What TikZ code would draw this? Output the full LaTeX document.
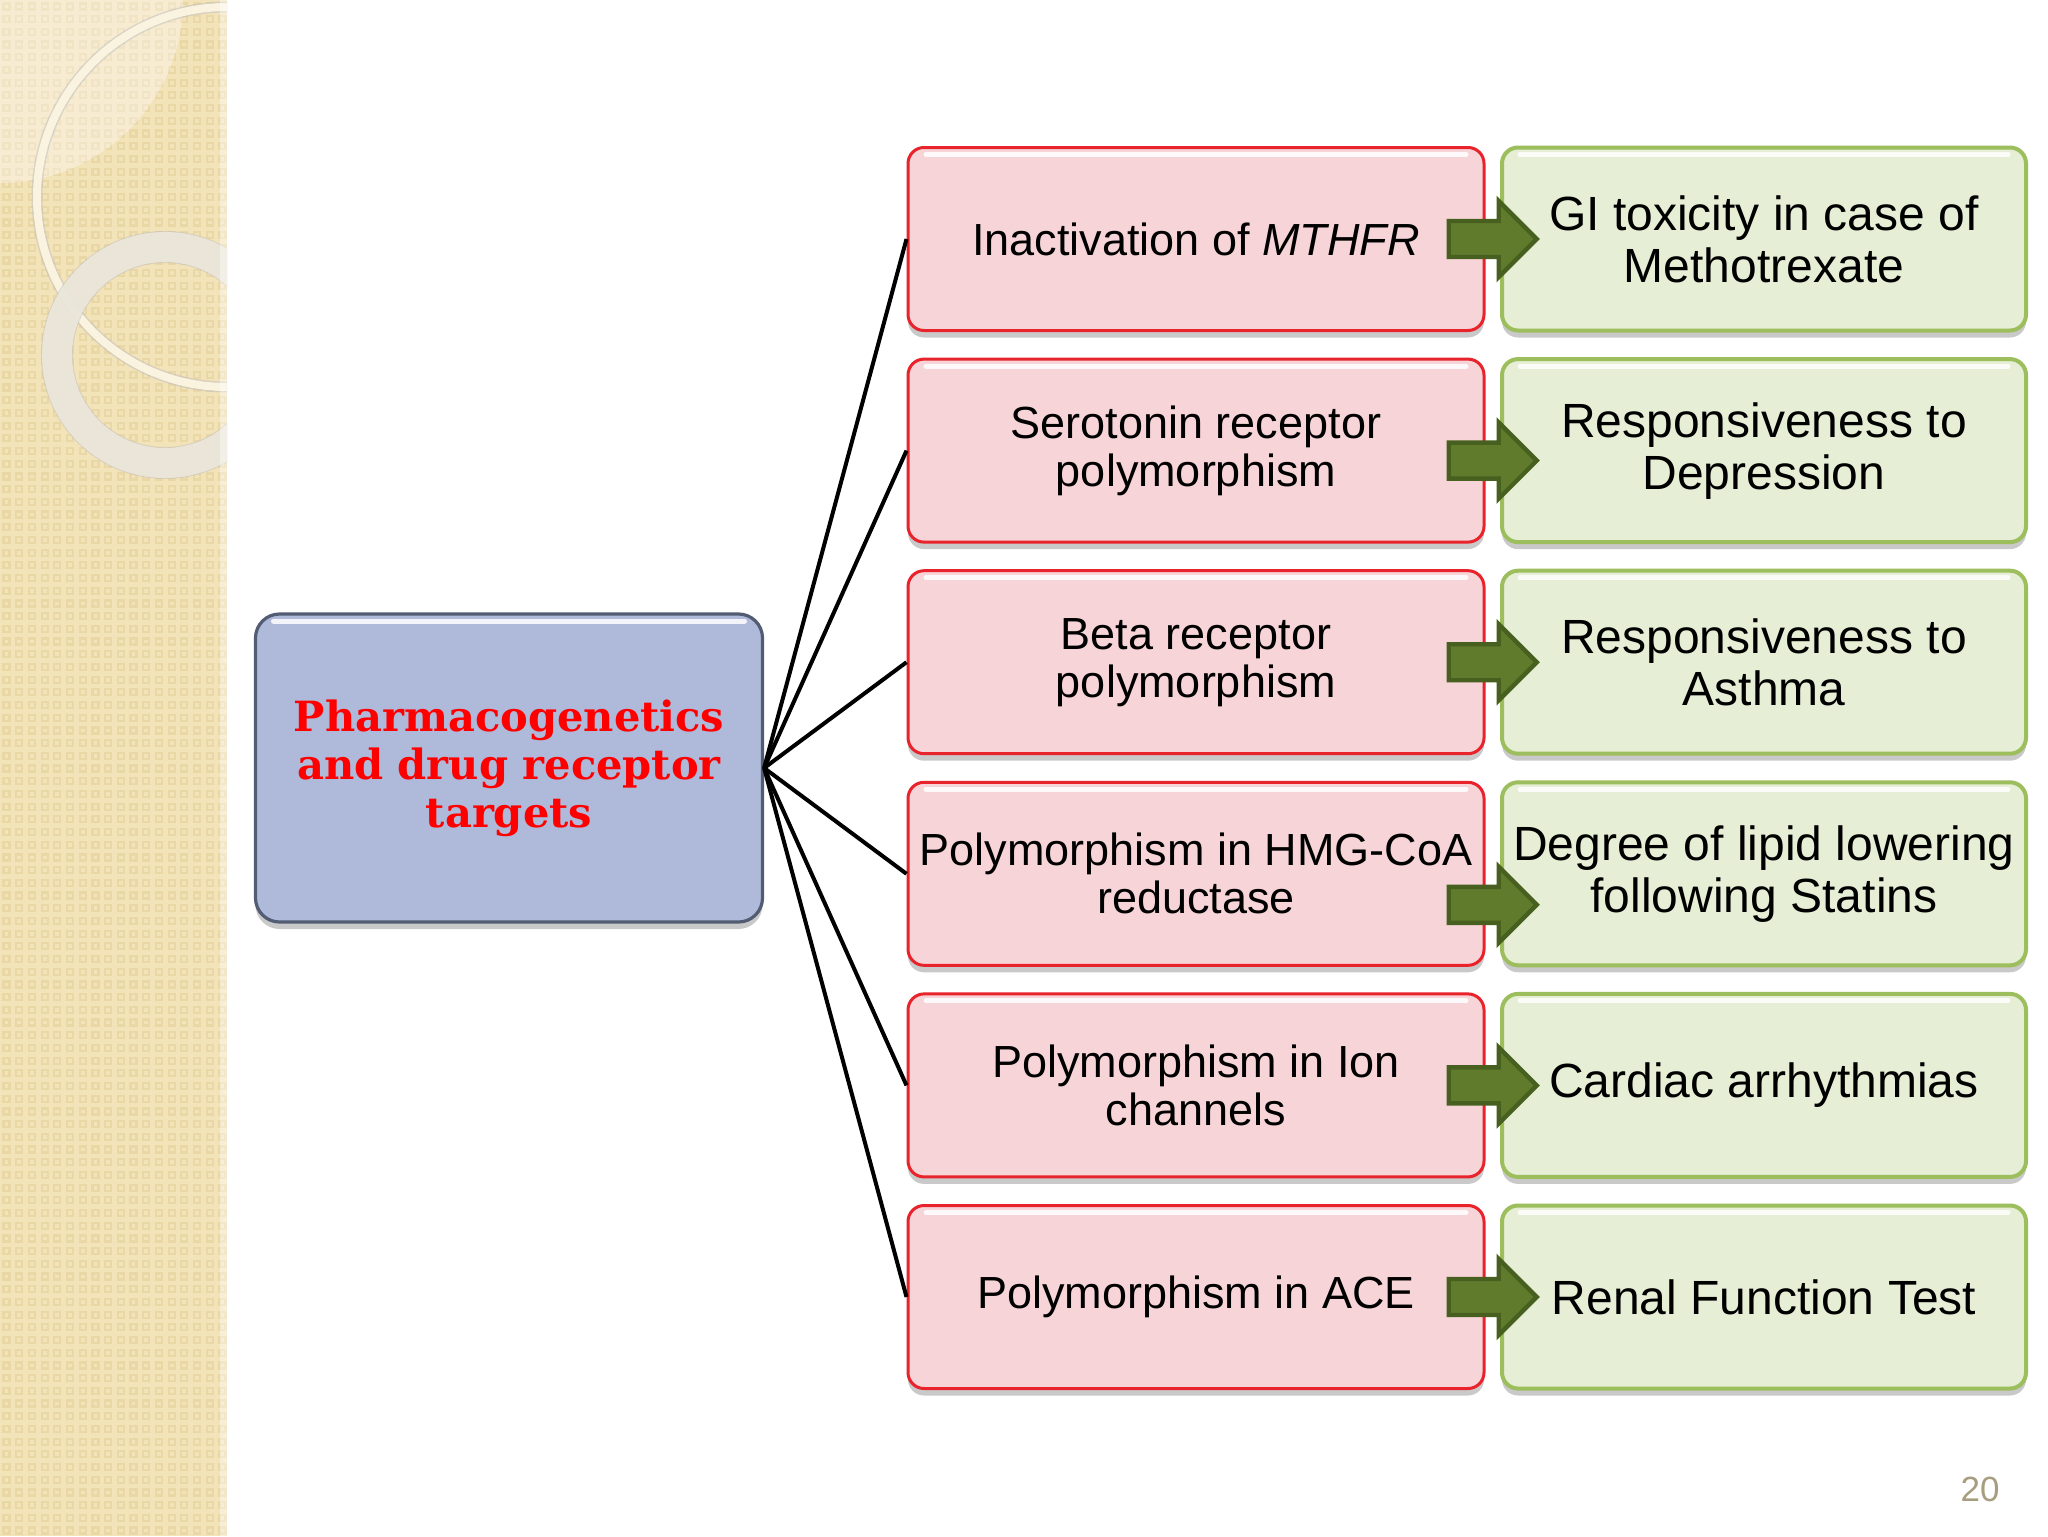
\documentclass[tikz,border=0pt]{standalone}
\usepackage{fontspec}
\setmainfont{Liberation Sans}
\newfontfamily\headfont{DejaVu Serif}
\usetikzlibrary{shadows,calc}
\definecolor{pinkfill}{HTML}{F6D4D7}
\definecolor{pinkdraw}{HTML}{E8232C}
\definecolor{greenfill}{HTML}{E6EFD5}
\definecolor{greendraw}{HTML}{9DBE5C}
\definecolor{bluefill}{HTML}{AFB9DA}
\definecolor{bluedraw}{HTML}{525C72}
\definecolor{arrowfill}{HTML}{5F7B2B}
\definecolor{arrowdraw}{HTML}{48601F}
\definecolor{stripbg}{HTML}{F3E3B9}
\definecolor{stripdot}{HTML}{EAD7A6}
\definecolor{ringthin}{HTML}{FAF3E0}
\definecolor{ringthick}{HTML}{ECE8DC}
\definecolor{numcol}{HTML}{A79E7F}
\tikzset{
  boxshadow/.style={drop shadow={shadow xshift=0pt, shadow yshift=-3.5pt, opacity=0.35, fill=black!60}},
  gloss/.style={path picture={\draw[white, line width=2.5pt, opacity=0.85, line cap=round]
      ([xshift=9pt,yshift=-3.5pt]path picture bounding box.north west) --
      ([xshift=-9pt,yshift=-3.5pt]path picture bounding box.north east);}},
  pinkbox/.style={draw=pinkdraw, fill=pinkfill, line width=1.5pt, rounded corners=8pt,
    minimum width=288pt, minimum height=91.5pt, align=center, inner sep=2pt,
    font=\fontsize{22.5}{24}\selectfont, boxshadow, gloss},
  greenbox/.style={draw=greendraw, fill=greenfill, line width=2pt, rounded corners=8pt,
    minimum width=262pt, minimum height=91.5pt, align=center, inner sep=2pt,
    font=\fontsize{24}{26}\selectfont, boxshadow, gloss},
  mainbox/.style={draw=bluedraw, fill=bluefill, line width=1.6pt, rounded corners=12pt,
    minimum width=253.5pt, minimum height=154pt, align=center, text=red,
    font=\headfont\bfseries\fontsize{20.8}{24}\selectfont, boxshadow, gloss},
  blockarrow/.style={draw=arrowdraw, fill=arrowfill, line width=2.2pt, line join=miter},
  conn/.style={draw=black, line width=2pt},
  pagenum/.style={text=numcol, font=\fontsize{17.5}{20}\selectfont, inner sep=0pt},
  pat/.style={draw=stripdot, line width=1.1pt}
}
\begin{document}
\begin{tikzpicture}[x=0.5pt,y=-0.5pt]
\useasboundingbox (0,0) rectangle (2048,1536);
\fill[white] (0,0) rectangle (2048,1536);
% left decorative strip
\begin{scope}
\clip (0,0) rectangle (227,1536);
\fill[stripbg] (0,0) rectangle (227,1536);
\foreach \i in {0,...,17} {
  \foreach \j in {0,...,121} {
    \draw[pat] ({\i*12.7+3.5},{\j*12.7+3.5}) rectangle +(6,6);
  }
}
\fill[white, opacity=0.35] (0,0) circle[radius=183];
\draw[black!25, opacity=0.5, line width=5.5pt] (227,197) circle[radius=190];
\draw[ringthin, line width=4pt] (227,197) circle[radius=190];
\draw[black!25, opacity=0.5, line width=16pt] (165,355) circle[radius=108];
\draw[ringthick, opacity=0.9, line width=15pt] (165,355) circle[radius=108];
\fill[white, opacity=0.4] (220,0) rectangle (227,1536);
\end{scope}
% main node
\node[mainbox] (m) at (509,768) {Pharmacogenetics\\and drug receptor\\targets};
% middle column
\node[pinkbox] (p1) at (1196,239.0) {Inactivation of \textit{MTHFR}};
\node[pinkbox] (p2) at (1196,450.6) {Serotonin receptor\\polymorphism};
\node[pinkbox] (p3) at (1196,662.2) {Beta receptor\\polymorphism};
\node[pinkbox] (p4) at (1196,873.8) {Polymorphism in HMG-CoA\\reductase};
\node[pinkbox] (p5) at (1196,1085.4) {Polymorphism in Ion\\channels};
\node[pinkbox] (p6) at (1196,1297.0) {Polymorphism in ACE};
% right column
\node[greenbox] (g1) at (1764,239.0) {GI toxicity in case of\\Methotrexate};
\node[greenbox] (g2) at (1764,450.6) {Responsiveness to\\Depression};
\node[greenbox] (g3) at (1764,662.2) {Responsiveness to\\Asthma};
\node[greenbox] (g4) at (1764,873.8) {Degree of lipid lowering\\following Statins};
\node[greenbox] (g5) at (1764,1085.4) {Cardiac arrhythmias};
\node[greenbox] (g6) at (1764,1297.0) {Renal Function Test};
% connectors
\foreach \k in {1,...,6} {
  \draw[conn] (m.east) -- (p\k.west);
}
% block arrows
\coordinate (a1) at ($(p1.east)!0.5!(g1.west)$);
\coordinate (a2) at ([yshift=-5pt]$(p2.east)!0.5!(g2.west)$);
\coordinate (a3) at ($(p3.east)!0.5!(g3.west)$);
\coordinate (a4) at ([yshift=-15.5pt]$(p4.east)!0.5!(g4.west)$);
\coordinate (a5) at ($(p5.east)!0.5!(g5.west)$);
\coordinate (a6) at ($(p6.east)!0.5!(g6.west)$);
\foreach \k in {1,...,6} {
  \draw[blockarrow] ($(a\k)+(-44,-18)$) -- ($(a\k)+(6,-18)$) -- ($(a\k)+(6,-38)$)
    -- ($(a\k)+(44,0)$) -- ($(a\k)+(6,38)$) -- ($(a\k)+(6,18)$) -- ($(a\k)+(-44,18)$) -- cycle;
}
% page number
\node[pagenum] (pg) at (1980,1489) {20};
\end{tikzpicture}
\end{document}
